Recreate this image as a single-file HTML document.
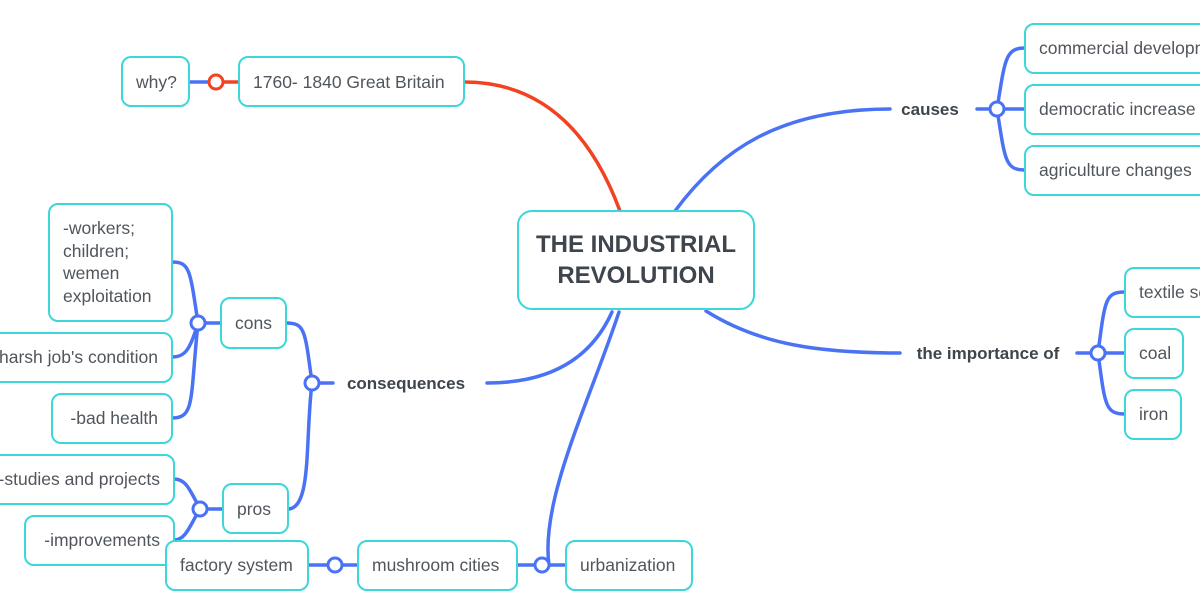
<!DOCTYPE html>
<html><head><meta charset="utf-8"><style>
html,body{margin:0;padding:0;background:#fff;width:1200px;height:600px;overflow:hidden}
svg text{font-family:"Liberation Sans",sans-serif;fill:#50565c;font-size:17.5px}
.b{fill:#fff;stroke:#3dd6d9;stroke-width:2}
.l{fill:none;stroke:#4a72f5;stroke-width:3.5;stroke-linecap:round}
.r{fill:none;stroke:#f3421f;stroke-width:3.5}
.c{fill:#fff;stroke:#4a72f5;stroke-width:3}
.bold{font-weight:bold;fill:#3e454c}
</style></head><body>
<svg width="1200" height="600" viewBox="0 0 1200 600" xmlns="http://www.w3.org/2000/svg">
<path class="r" d="M464,82 C540,82 590,130 620,211"/>
<path class="l" d="M675,211 C720,150 780,109 890,109"/>
<path class="l" d="M706,311 C760,345 820,353 900,353"/>
<path class="l" d="M487,383 C560,383 595,350 612,312"/>
<path class="l" d="M619,312 C590,400 540,500 549,565"/>
<path class="l" d="M977,109 L1025,109 M997,109 C1005,60 1005,48 1025,48 M997,109 C1005,160 1005,170 1025,170"/>
<circle class="c" cx="997" cy="109" r="7"/>
<path class="l" d="M1077,353 L1125,353 M1098,353 C1105,300 1105,292 1125,292 M1098,353 C1105,405 1105,414 1125,414"/>
<circle class="c" cx="1098" cy="353" r="7"/>
<path class="l" d="M333,383 L312,383 M312,383 C305,330 305,323 286,323 M312,383 C305,440 312,509 288,509"/>
<circle class="c" cx="312" cy="383" r="7"/>
<path class="l" d="M221,323 L198,323 M198,323 C190,270 190,262 172,262 M198,323 C190,350 185,357 172,357 M198,323 C190,400 195,418 172,418"/>
<circle class="c" cx="198" cy="323" r="7"/>
<path class="l" d="M223,509 L200,509 M200,509 C190,490 186,479 174,479 M200,509 C190,525 186,540 174,540"/>
<circle class="c" cx="200" cy="509" r="7"/>
<path class="l" d="M308,565 L358,565 M517,565 L566,565"/>
<circle class="c" cx="335" cy="565" r="7"/>
<circle class="c" cx="542" cy="565" r="7"/>
<path class="l" d="M189,82 L208,82"/>
<path class="r" d="M216,82 L239,82"/>
<circle cx="216" cy="82" r="7" fill="#fff" stroke="#f3421f" stroke-width="3"/>

<rect class="b" x="518" y="211" width="236" height="98" rx="14"/>
<text x="636" y="252" text-anchor="middle" style="font-size:24px" class="bold">THE INDUSTRIAL</text>
<text x="636" y="283" text-anchor="middle" style="font-size:24px" class="bold">REVOLUTION</text>

<rect class="b" x="239" y="57" width="225" height="49" rx="9"/>
<text x="253" y="88">1760- 1840 Great Britain</text>
<rect class="b" x="122" y="57" width="67" height="49" rx="9"/>
<text x="136" y="88">why?</text>

<text x="930" y="115" text-anchor="middle" class="bold" style="font-size:17px">causes</text>
<rect class="b" x="1025" y="24" width="190" height="49" rx="9"/>
<text x="1039" y="54">commercial development</text>
<rect class="b" x="1025" y="85" width="190" height="49" rx="9"/>
<text x="1039" y="115">democratic increase</text>
<rect class="b" x="1025" y="146" width="182" height="49" rx="9"/>
<text x="1039" y="176">agriculture changes</text>

<text x="988" y="359" text-anchor="middle" class="bold" style="font-size:17px">the importance of</text>
<rect class="b" x="1125" y="268" width="100" height="49" rx="9"/>
<text x="1139" y="298">textile sector</text>
<rect class="b" x="1125" y="329" width="58" height="49" rx="9"/>
<text x="1139" y="359">coal</text>
<rect class="b" x="1125" y="390" width="56" height="49" rx="9"/>
<text x="1139" y="420">iron</text>

<text x="406" y="389" text-anchor="middle" class="bold" style="font-size:17px">consequences</text>
<rect class="b" x="221" y="298" width="65" height="50" rx="9"/>
<text x="235" y="329">cons</text>
<rect class="b" x="223" y="484" width="65" height="49" rx="9"/>
<text x="237" y="515">pros</text>

<rect class="b" x="49" y="204" width="123" height="117" rx="9"/>
<text x="63" y="234">-workers;</text>
<text x="63" y="257">children;</text>
<text x="63" y="279">wemen</text>
<text x="63" y="302">exploitation</text>
<rect class="b" x="-20" y="333" width="192" height="49" rx="9"/>
<text x="158" y="363" text-anchor="end">-harsh job's condition</text>
<rect class="b" x="52" y="394" width="120" height="49" rx="9"/>
<text x="158" y="424" text-anchor="end">-bad health</text>
<rect class="b" x="-20" y="455" width="194" height="49" rx="9"/>
<text x="160" y="485" text-anchor="end">-studies and projects</text>
<rect class="b" x="25" y="516" width="149" height="49" rx="9"/>
<text x="160" y="546" text-anchor="end">-improvements</text>

<rect class="b" x="166" y="541" width="142" height="49" rx="9"/>
<text x="180" y="571">factory system</text>
<rect class="b" x="358" y="541" width="159" height="49" rx="9"/>
<text x="372" y="571">mushroom cities</text>
<rect class="b" x="566" y="541" width="126" height="49" rx="9"/>
<text x="580" y="571">urbanization</text>
</svg>
</body></html>
